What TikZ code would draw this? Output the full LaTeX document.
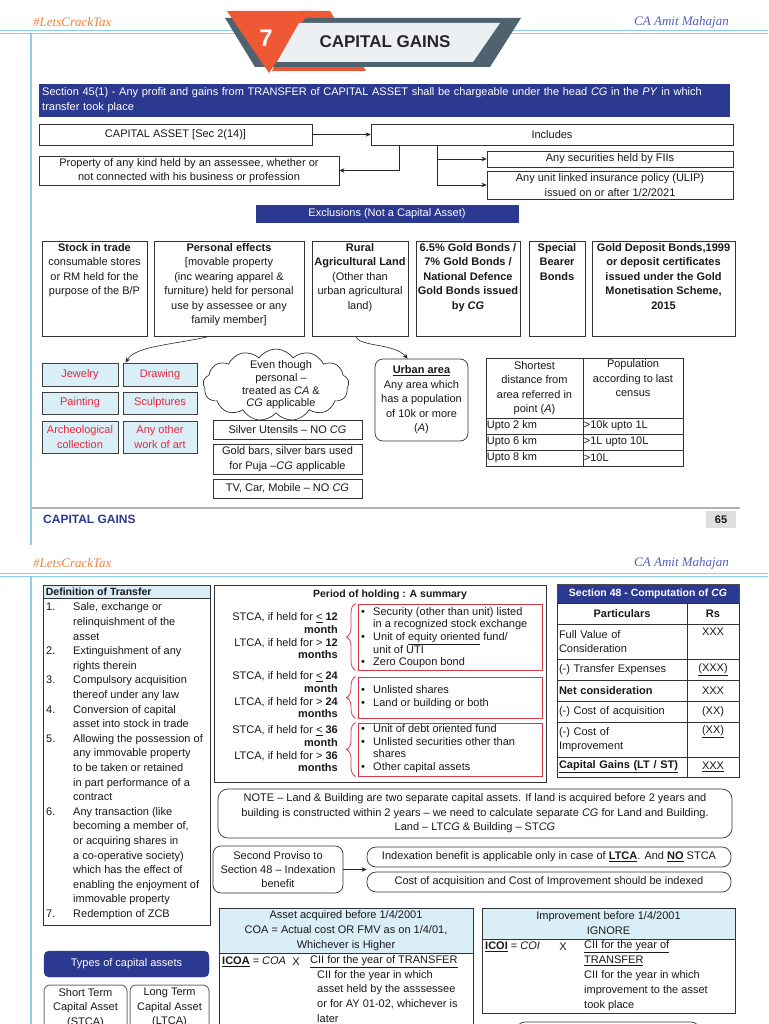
\documentclass[tikz,border=0pt]{standalone}
\usepackage{fontspec}
\setmainfont{Liberation Sans}
\newfontfamily\scriptf{Liberation Serif}
\usetikzlibrary{shapes.symbols,arrows.meta,decorations.pathreplacing}
\definecolor{dblue}{RGB}{43,57,144}
\definecolor{lblue}{RGB}{218,238,248}
\definecolor{rtext}{RGB}{228,40,62}
\definecolor{rline}{RGB}{215,55,70}
\definecolor{pline}{RGB}{140,205,240}
\definecolor{orng}{RGB}{238,88,52}
\definecolor{slate}{RGB}{78,98,112}
\definecolor{bannerc}{RGB}{236,240,242}
\definecolor{sorange}{RGB}{240,128,60}
\definecolor{sblue}{RGB}{80,95,190}
\newcommand\fs{\fontsize{11}{14.5}\selectfont}
\newcommand\fsp{\fontsize{11}{12.7}\selectfont}
\newcommand\bx[7]{\node[#6, minimum width={(#4)-(#2)}, minimum height={(#5)-(#3)}] (#1) at ({((#2)+(#4))/2},{((#3)+(#5))/2}) {#7};}
\begin{document}
\begin{tikzpicture}[x=1pt,y=-1pt,
  every node/.style={font=\fs, inner sep=1pt, text=black!90},
  bxs/.style={draw=black!80, line width=0.7pt, align=center},
  lbx/.style={draw=black!75, line width=0.7pt, fill=lblue, text=rtext, align=center},
  dbx/.style={draw=dblue, fill=dblue, text=white, align=center},
  cellc/.style={draw=black!80, line width=0.6pt, align=center},
  rbx/.style={draw=rline, line width=0.9pt},
  arr/.style={-{Stealth[length=5pt,width=4.5pt]}, line width=0.6pt, draw=black!85},
  rnd/.style={draw=black!80, line width=0.7pt, rounded corners=9pt, align=center},
  scr/.style={font=\scriptf\itshape\fontsize{13}{14}\selectfont},
  brc/.style={rline, line width=0.8pt, decorate, decoration={brace, amplitude=9pt}}
]
\useasboundingbox (0,0) rectangle (768,1024);
\clip (0,0) rectangle (768,1024);
\fill[white] (0,0) rectangle (768,1024);

% ---------------- page 1 header
\draw[pline, line width=1pt] (0,31) -- (768,31);
\draw[pline, line width=1pt] (0,34) -- (768,34);
\draw[pline, line width=1.6pt] (31,34) -- (31,545);
\node[scr, text=sorange, anchor=west] (tag1) at (32,22) {\#LetsCrackTax};
\node[scr, text=sblue, anchor=east] (ca1) at (730,22) {CA Amit Mahajan};
\fill[orng] (300,11) -- (330,11) -- (366,71) -- (272,71) -- cycle;
\fill[slate] (225,18) -- (521,18) -- (490,67) -- (255,67) -- cycle;
\fill[orng] (227,11) -- (310,11) -- (269,73) -- cycle;
\fill[bannerc] (299,23) -- (500,23) -- (473,62) -- (277,62) -- cycle;
\node[text=white, font=\bfseries\fontsize{24}{24}\selectfont] (num) at (266,38) {7};
\node[text=black!85, font=\bfseries\fontsize{17}{17}\selectfont] (title) at (385,42) {CAPITAL GAINS};

% ---------------- section 45
\node[dbx, align=left, text width=684pt, minimum height=32pt, anchor=north west, inner sep=3pt] (s45) at (39,84) {Section 45(1) - Any profit and gains from TRANSFER of CAPITAL ASSET shall be chargeable under the head \textit{CG} in the \textit{PY} in which\\transfer took place};
\bx{ca}{39}{124}{312}{145}{bxs}{CAPITAL ASSET [Sec 2(14)]}
\bx{inc}{371}{124}{733}{145}{bxs}{Includes}
\bx{prop}{39}{156}{339}{185}{bxs}{Property of any kind held by an assessee, whether or\\not connected with his business or profession}
\bx{fii}{487}{151}{733}{167}{bxs}{Any securities held by FIIs}
\bx{ulip}{487}{171}{733}{199}{bxs}{Any unit linked insurance policy (ULIP)\\issued on or after 1/2/2021}
\draw[arr] (ca.east) -- (inc.west);
\draw[arr] ([xshift=29pt]inc.south west) |- (prop.east);
\draw[arr] ([xshift=67pt]inc.south west) |- (fii.west);
\draw[arr] ([xshift=67pt]inc.south west) |- (ulip.west);

% ---------------- exclusions
\bx{excl}{256}{205}{518}{222}{dbx}{Exclusions (Not a Capital Asset)}
\bx{e1}{42}{241}{147}{336}{bxs}{}
\bx{e2}{154}{241}{304}{336}{bxs}{}
\bx{e3}{312}{241}{408}{336}{bxs}{}
\bx{e4}{416}{241}{520}{336}{bxs}{}
\bx{e5}{529}{241}{585}{336}{bxs}{}
\bx{e6}{592}{241}{735}{336}{bxs}{}
\node[anchor=north, align=center] (e1t) at ([yshift=-1.5pt]e1.north) {\textbf{Stock in trade}\\consumable stores\\or RM held for the\\purpose of the B/P};
\node[anchor=north, align=center] (e2t) at ([yshift=-1.5pt]e2.north) {\textbf{Personal effects}\\{[}movable property\\(inc wearing apparel \&\\furniture) held for personal\\use by assessee or any\\family member{]}};
\node[anchor=north, align=center] (e3t) at ([yshift=-1.5pt]e3.north) {\textbf{Rural}\\\textbf{Agricultural Land}\\(Other than\\urban agricultural\\land)};
\node[anchor=north, align=center, font=\bfseries\fs] (e4t) at ([yshift=-1.5pt]e4.north) {6.5\% Gold Bonds /\\7\% Gold Bonds /\\National Defence\\Gold Bonds issued\\by \textit{CG}};
\node[anchor=north, align=center, font=\bfseries\fs] (e5t) at ([yshift=-1.5pt]e5.north) {Special\\Bearer\\Bonds};
\node[anchor=north, align=center, font=\bfseries\fs] (e6t) at ([yshift=-1.5pt]e6.north) {Gold Deposit Bonds,1999\\or deposit certificates\\issued under the Gold\\Monetisation Scheme,\\2015};

% ---------------- personal effects details
\bx{jew}{42}{363}{118}{386}{lbx}{Jewelry}
\bx{drw}{123}{363}{197}{386}{lbx}{Drawing}
\bx{pnt}{42}{392}{118}{414}{lbx}{Painting}
\bx{scl}{123}{392}{197}{414}{lbx}{Sculptures}
\bx{arc}{42}{421}{118}{453}{lbx}{Archeological\\collection}
\bx{oth}{123}{421}{197}{453}{lbx}{Any other\\work of art}
\draw[arr] ([xshift=56pt]e2.south west) .. controls (172,345) and (135,346) .. ([xshift=3pt]drw.north west);
\node[cloud, draw=black!80, line width=0.7pt, cloud puffs=13, cloud puff arc=110, aspect=2, minimum width=146pt, minimum height=72pt, inner sep=0pt] (cld) at (276,385) {};
\node[align=center, font=\fontsize{11}{12.7}\selectfont] (cldt) at (281,385) {Even though\\personal –\\treated as \textit{CA} \&\\\textit{CG} applicable};
\bx{sil}{213}{420}{362}{439}{bxs}{Silver Utensils – NO \textit{CG}}
\bx{gbar}{213}{444}{362}{474}{bxs}{Gold bars, silver bars used\\for Puja –\textit{CG} applicable}
\bx{tv}{213}{479}{362}{498}{bxs}{TV, Car, Mobile – NO \textit{CG}}

% ---------------- urban area
\bx{urb}{375}{359}{468}{441}{bxs, rounded corners=8pt}{\textbf{\underline{Urban area}}\\Any area which\\has a population\\of 10k or more\\(\textit{A})}
\draw[arr] ([xshift=44pt]e3.south west) .. controls (359,347) and (394,343) .. ([xshift=33pt]urb.north west);
\bx{th1}{486}{358}{583}{418}{cellc}{Shortest\\distance from\\area referred in\\point (\textit{A})}
\bx{th2}{583}{358}{683}{418}{cellc}{}
\node[anchor=north, align=center] (th2t) at ([yshift=-1pt]th2.north) {Population\\according to last\\census};
\bx{r1a}{486}{418}{583}{434}{cellc}{}
\bx{r1b}{583}{418}{683}{434}{cellc}{}
\bx{r2a}{486}{434}{583}{450}{cellc}{}
\bx{r2b}{583}{434}{683}{450}{cellc}{}
\bx{r3a}{486}{450}{583}{466}{cellc}{}
\bx{r3b}{583}{450}{683}{466}{cellc}{}
\node[anchor=west] (r1at) at (r1a.west) {Upto 2 km};
\node[anchor=west] (r1bt) at (r1b.west) {>10k upto 1L};
\node[anchor=west] (r2at) at (r2a.west) {Upto 6 km};
\node[anchor=west] (r2bt) at (r2b.west) {>1L upto 10L};
\node[anchor=west] (r3at) at (r3a.west) {Upto 8 km};
\node[anchor=west] (r3bt) at (r3b.west) {>10L};

% ---------------- footer page 1
\draw[black!30, line width=1.2pt] (31,508) -- (740,508);
\node[anchor=west, text=dblue, font=\bfseries\fontsize{12}{13}\selectfont] (ft) at (42,519) {CAPITAL GAINS};
\bx{pg}{706}{511}{736}{528}{fill=black!13}{\textbf{65}}

% ---------------- page 2 header
\draw[pline, line width=1pt] (0,573) -- (768,573);
\draw[pline, line width=1pt] (0,576) -- (768,576);
\draw[pline, line width=1.6pt] (31,576) -- (31,1024);
\node[scr, text=sorange, anchor=west] (tag2) at (32,563) {\#LetsCrackTax};
\node[scr, text=sblue, anchor=east] (ca2) at (730,563) {CA Amit Mahajan};

% ---------------- definition of transfer
\bx{def}{43}{585}{210}{925}{bxs}{}
\bx{defh}{43}{585}{210}{598}{draw=black!80, line width=0.7pt, fill=lblue, inner sep=0.5pt}{}
\node[anchor=west, font=\bfseries\fontsize{10.5}{11}\selectfont] (defht) at ([xshift=2pt]defh.west) {Definition of Transfer};
\node[anchor=north west, inner sep=0pt, font=\fontsize{11}{14.6}\selectfont] (deflist) at (46,600.5) {%
\begin{tabular}{@{}p{27pt}@{}p{136pt}@{}}
1. & Sale, exchange or\newline relinquishment of the\newline asset\\
2. & Extinguishment of any\newline rights therein\\
3. & Compulsory acquisition\newline thereof under any law\\
4. & Conversion of capital\newline asset into stock in trade\\
5. & Allowing the possession of\newline any immovable property\newline to be taken or retained\newline in part performance of a\newline contract\\
6. & Any transaction (like\newline becoming a member of,\newline or acquiring shares in\newline a co-operative society)\newline which has the effect of\newline enabling the enjoyment of\newline immovable property\\
7. & Redemption of ZCB
\end{tabular}};
\bx{types}{44}{951}{209}{977}{dbx, rounded corners=5pt}{Types of capital assets}
\bx{stca}{44}{985}{127}{1045}{draw=black!55, line width=1pt, rounded corners=6pt}{}
\bx{ltca}{130}{985}{209}{1045}{draw=black!55, line width=1pt, rounded corners=6pt}{}
\node[anchor=north, align=center] (stcat) at ([yshift=-2.5pt]stca.north) {Short Term\\Capital Asset\\(STCA)};
\node[anchor=north, align=center] (ltcat) at ([yshift=-2.5pt]ltca.north) {Long Term\\Capital Asset\\(LTCA)};

% ---------------- period of holding
\bx{poh}{214}{585}{546}{782}{bxs}{}
\node[font=\bfseries\fontsize{10.5}{11}\selectfont] (poht) at (390,595) {Period of holding : A summary};
\node[anchor=east, align=right, font=\fsp] (g1l) at (339,636) {STCA, if held for \underline{<} \textbf{12}\\\textbf{month}\\LTCA, if held for > \textbf{12}\\\textbf{months}};
\node[anchor=east, align=right, font=\fsp] (g2l) at (339,695) {STCA, if held for \underline{<} \textbf{24}\\\textbf{month}\\LTCA, if held for > \textbf{24}\\\textbf{months}};
\node[anchor=east, align=right, font=\fsp] (g3l) at (339,749) {STCA, if held for \underline{<} \textbf{36}\\\textbf{month}\\LTCA, if held for > \textbf{36}\\\textbf{months}};
\bx{rb1}{358}{604}{542}{670}{rbx}{}
\bx{rb2}{358}{677}{542}{718}{rbx}{}
\bx{rb3}{358}{723}{542}{776}{rbx}{}
\draw[brc] ([xshift=-2pt]rb1.south west) -- ([xshift=-2pt]rb1.north west);
\draw[brc] ([xshift=-2pt]rb2.south west) -- ([xshift=-2pt]rb2.north west);
\draw[brc] ([xshift=-2pt]rb3.south west) -- ([xshift=-2pt]rb3.north west);
\node[anchor=north west, inner sep=0pt, font=\fsp] (rb1t) at (361,606) {%
\begin{tabular}{@{}p{12pt}@{}p{168pt}@{}}
• & Security (other than unit) listed\newline in a recognized stock exchange\\
• & Unit of \underline{equity oriented} fund/\newline unit of UTI\\
• & Zero Coupon bond
\end{tabular}};
\node[anchor=west, inner sep=0pt, font=\fsp] (rb2t) at (361,697.5) {%
\begin{tabular}{@{}p{12pt}@{}p{168pt}@{}}
• & Unlisted shares\\
• & Land or building or both
\end{tabular}};
\node[anchor=north west, inner sep=0pt, font=\fsp] (rb3t) at (361,723.5) {%
\begin{tabular}{@{}p{12pt}@{}p{168pt}@{}}
• & Unit of debt oriented fund\\
• & Unlisted securities other than\newline shares\\
• & Other capital assets
\end{tabular}};

% ---------------- section 48 table
\bx{s48h}{557}{584}{739}{603}{dbx, draw=black!70, font=\bfseries\fontsize{10.5}{11}\selectfont}{Section 48 - Computation of \textit{CG}}
\bx{c0a}{557}{603}{687}{624}{cellc}{\textbf{Particulars}}
\bx{c0b}{687}{603}{739}{624}{cellc}{\textbf{Rs}}
\bx{c1a}{557}{624}{687}{659}{cellc, align=left, text width=126pt}{Full Value of\\Consideration}
\bx{c1b}{687}{624}{739}{659}{cellc}{}
\bx{c2a}{557}{659}{687}{680}{cellc, align=left, text width=126pt}{(-) Transfer Expenses}
\bx{c2b}{687}{659}{739}{680}{cellc}{\underline{(XXX)}}
\bx{c3a}{557}{680}{687}{701}{cellc, align=left, text width=126pt}{\textbf{Net consideration}}
\bx{c3b}{687}{680}{739}{701}{cellc}{XXX}
\bx{c4a}{557}{701}{687}{722}{cellc, align=left, text width=126pt}{(-) Cost of acquisition}
\bx{c4b}{687}{701}{739}{722}{cellc}{(XX)}
\bx{c5a}{557}{722}{687}{757}{cellc, align=left, text width=126pt}{(-) Cost of\\Improvement}
\bx{c5b}{687}{722}{739}{757}{cellc}{}
\bx{c6a}{557}{757}{687}{777}{cellc, align=left, text width=126pt}{\textbf{\underline{Capital Gains (LT / ST)}}}
\bx{c6b}{687}{757}{739}{777}{cellc}{\underline{XXX}}
\node[anchor=north] (c1bt) at ([yshift=-3pt]c1b.north) {XXX};
\node[anchor=north] (c5bt) at ([yshift=-3pt]c5b.north) {\underline{(XX)}};

% ---------------- note and proviso
\bx{note}{218}{789}{732}{838}{rnd, rounded corners=10pt}{NOTE – Land \& Building are two separate capital assets. If land is acquired before 2 years and\\building is constructed within 2 years – we need to calculate separate \textit{CG} for Land and Building.\\Land – LT\textit{CG} \& Building – ST\textit{CG}}
\bx{prov}{213}{846}{343}{893}{rnd, rounded corners=8pt, font=\fontsize{11}{14}\selectfont}{Second Proviso to\\Section 48 – Indexation\\benefit}
\bx{idx1}{367}{847}{731}{867}{rnd}{Indexation benefit is applicable only in case of \textbf{\underline{LTCA}}. And \textbf{\underline{NO}} STCA}
\bx{idx2}{367}{872}{731}{892}{rnd}{Cost of acquisition and Cost of Improvement should be indexed}
\draw[arr] (prov.east) -- (prov.east -| idx1.west);

% ---------------- indexation tables
\bx{ah}{219}{908}{473}{953}{cellc, fill=lblue, font=\fontsize{11}{15}\selectfont}{Asset acquired before 1/4/2001\\COA = Actual cost OR FMV as on 1/4/01,\\Whichever is Higher}
\bx{ab}{219}{953}{473}{1045}{cellc}{}
\node[anchor=west] (icoa) at (221,962) {\textbf{\underline{ICOA}} = \textit{COA}};
\node (xa) at (296,962) {X};
\node[anchor=west] (numa) at (309,962) {\underline{CII for the year of TRANSFER}};
\node[anchor=north west, align=left, font=\fontsize{11}{14.7}\selectfont] (dena) at (316,969) {CII for the year in which\\asset held by the asssessee\\or for AY 01-02, whichever is\\later};
\bx{ih}{482}{908}{735}{939}{cellc, fill=lblue, font=\fontsize{11}{15}\selectfont}{Improvement before 1/4/2001\\IGNORE}
\bx{ib}{482}{939}{735}{1013}{cellc}{}
\node[anchor=west] (icoi) at (484,947) {\textbf{\underline{ICOI}} = \textit{COI}};
\node (xi) at (563,947) {X};
\node[anchor=north west, align=left, font=\fontsize{11}{15}\selectfont] (numi) at (583,939.5) {\underline{CII for the year of}\\\underline{TRANSFER}\\CII for the year in which\\improvement to the asset\\took place};
\bx{bot}{516}{1022}{700}{1046}{rnd}{}
\end{tikzpicture}
\end{document}
